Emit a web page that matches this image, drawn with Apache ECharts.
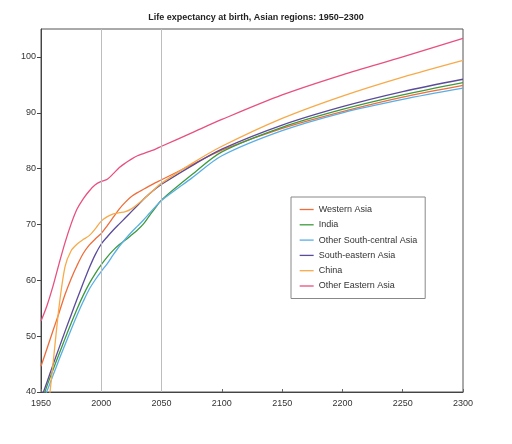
<!DOCTYPE html>
<html lang="en">
<head>
    <meta charset="UTF-8">
    <title>Life expectancy at birth, Asian regions: 1950–2300</title>
    <script src="https://cdn.jsdelivr.net/npm/echarts@6/dist/echarts.min.js"></script>
    <style>
        body {
            margin: 0;
            padding: 0;
            background-color: #fff;
        }

        #main {
            width: 512px;
            height: 444px;
        }
    </style>
</head>
<body>
    <div id="main"></div>

    <script>

        // years shared by every series (5-year steps to 2050, then coarser)
        const years = [1950, 1955, 1960, 1965, 1970, 1975, 1980, 1985, 1990, 1995,
            2000, 2005, 2010, 2015, 2020, 2025, 2030, 2035, 2040, 2045, 2050,
            2075, 2100, 2150, 2200, 2250, 2300];

        const westernAsia = [44.6, 47.8, 51.0, 54.2, 57.5, 60.3, 62.7, 64.8, 66.3, 67.4,
            68.4, 69.8, 71.3, 72.8, 74.0, 75.0, 75.7, 76.3, 76.9, 77.5, 78.0,
            80.7, 83.3, 87.2, 90.2, 92.8, 94.9];

        const india = [37.8, 41.1, 44.0, 46.8, 49.6, 52.3, 54.9, 57.3, 59.4, 61.2,
            62.8, 64.2, 65.4, 66.4, 67.2, 68.1, 69.0, 70.1, 71.6, 73.0, 74.4,
            78.9, 83.0, 87.4, 90.6, 93.2, 95.4];

        const otherSouthCentral = [37.6, 40.2, 43.0, 45.8, 48.5, 51.2, 53.8, 56.2, 58.4, 60.1,
            61.6, 63.0, 64.6, 66.1, 67.4, 68.6, 69.7, 70.8, 72.0, 73.2, 74.3,
            78.3, 82.3, 86.8, 90.0, 92.4, 94.4];

        const southEastern = [38.8, 41.8, 44.9, 47.9, 50.9, 53.8, 56.7, 59.5, 62.2, 64.6,
            66.5, 67.8, 69.0, 70.1, 71.2, 72.3, 73.4, 74.5, 75.5, 76.4, 77.2,
            80.5, 83.5, 87.8, 91.1, 93.8, 96.0];

        const china = [null, 35.0, 45.1, 55.3, 62.5, 65.3, 66.5, 67.3, 68.0, 69.2,
            70.6, 71.4, 71.9, 72.1, 72.3, 72.8, 73.6, 74.5, 75.5, 76.5, 77.4,
            80.9, 84.0, 89.0, 93.0, 96.4, 99.4];

        const otherEastern = [52.7, 55.5, 59.0, 63.0, 66.8, 70.1, 72.8, 74.6, 76.0, 77.1,
            77.7, 78.1, 79.1, 80.2, 81.0, 81.7, 82.3, 82.7, 83.1, 83.5, 84.0,
            86.4, 88.8, 93.2, 96.8, 100.0, 103.3];

        const regionNames = ['Western Asia', 'India', 'Other South-central Asia',
            'South-eastern Asia', 'China', 'Other Eastern Asia'];
        const regionValues = [westernAsia, india, otherSouthCentral, southEastern, china, otherEastern];
        const regionColors = ['#ee6d3a', '#3e9a3e', '#5aaee6', '#5b4b9b', '#f7aa4a', '#e8507f'];

        // grey vertical reference lines
        const markYears = [2000, 2050];

        const font = 'Liberation Sans, Arial, Helvetica, sans-serif';

        var chartDom = document.getElementById('main');
        var myChart = echarts.init(chartDom);

        var series = regionNames.map(function (name, i) {
            var s = {
                name: name,
                type: 'line',
                smooth: 0.3,
                symbol: 'none',
                clip: true,
                color: regionColors[i],
                lineStyle: { width: 1.3, color: regionColors[i] },
                data: years.map(function (yr, k) {
                    return [yr, regionValues[i][k]];
                })
            };
            if (i === 0) {
                s.markLine = {
                    silent: true,
                    symbol: 'none',
                    label: { show: false },
                    lineStyle: { color: '#bdbdbd', width: 1, type: 'solid' },
                    data: markYears.map(function (yr) {
                        return { xAxis: yr };
                    })
                };
            }
            return s;
        });

        var option = {
            animation: false,
            title: {
                text: 'Life expectancy at birth, Asian regions: 1950–2300',
                left: 'center',
                top: 8,
                textStyle: {
                    fontFamily: font,
                    fontSize: 9,
                    fontWeight: 'bold',
                    color: '#222'
                }
            },
            grid: {
                left: 41,
                right: 49,
                top: 29,
                bottom: 52,
                show: true,
                borderColor: '#555',
                borderWidth: 1
            },
            legend: {
                orient: 'vertical',
                left: 291,
                top: 197,
                padding: 8,
                itemWidth: 14,
                itemHeight: 9,
                itemGap: 6.3,
                backgroundColor: '#fff',
                borderColor: '#888',
                borderWidth: 1,
                itemStyle: { opacity: 0 },
                lineStyle: { width: 1.3 },
                data: regionNames,
                textStyle: {
                    fontFamily: font,
                    fontSize: 9,
                    color: '#333'
                }
            },
            xAxis: {
                type: 'value',
                min: 1950,
                max: 2300,
                interval: 50,
                axisLine: { lineStyle: { color: '#444' } },
                axisTick: { inside: true, length: 3, lineStyle: { color: '#666' } },
                splitLine: { show: false },
                axisLabel: {
                    margin: 7,
                    fontFamily: font,
                    fontSize: 9,
                    color: '#333',
                    formatter: function (v) {
                        return String(v);
                    }
                }
            },
            yAxis: {
                type: 'value',
                min: 40,
                max: 105,
                interval: 10,
                axisLine: { show: true, lineStyle: { color: '#444' } },
                axisTick: { show: true, length: 4, lineStyle: { color: '#444' } },
                splitLine: { show: false },
                axisLabel: {
                    margin: 5,
                    fontFamily: font,
                    fontSize: 9,
                    color: '#333',
                    showMaxLabel: false,
                    formatter: function (v) {
                        return v % 10 === 0 ? v : '';
                    }
                }
            },
            series: series
        };

        option && myChart.setOption(option);
    </script>
</body>
</html>
